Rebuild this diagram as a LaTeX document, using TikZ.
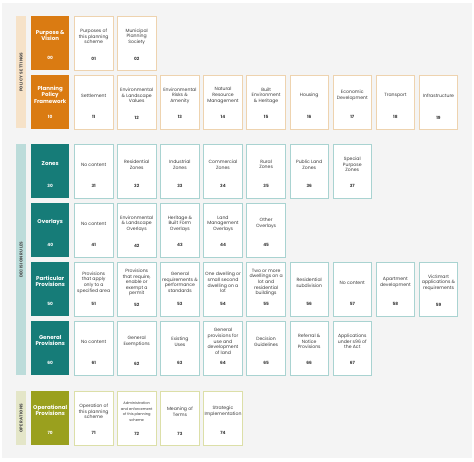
\documentclass[tikz,border=0pt]{standalone}
\usepackage{fontspec}
\setmainfont{Poppins}
\newfontfamily\barfont[LetterSpace=6]{Poppins}

\definecolor{bggrey}{HTML}{F4F4F4}
\definecolor{txtgrey}{HTML}{3A3A3A}
\definecolor{bargrey}{HTML}{4A4A4A}
\definecolor{phead}{HTML}{DA7B12}
\definecolor{pline}{HTML}{EED3AF}
\definecolor{pbar}{HTML}{F6E2C8}
\definecolor{dhead}{HTML}{167C78}
\definecolor{dline}{HTML}{A9D3D1}
\definecolor{dbar}{HTML}{BCDCDA}
\definecolor{ohead}{HTML}{9AA01E}
\definecolor{oline}{HTML}{DCDFA8}
\definecolor{obar}{HTML}{E4E6C8}

\begin{document}
\begin{tikzpicture}[x=1pt, y=-1pt]
	\tikzstyle{box} = [rectangle, fill=white, line width=0.9pt, minimum width=38.5pt, minimum height=53.5pt, anchor=north west, inner sep=0pt]
	\tikzstyle{pbox} = [box, draw=pline]
	\tikzstyle{dbox} = [box, draw=dline]
	\tikzstyle{obox} = [box, draw=oline]
	\tikzstyle{head} = [rectangle, minimum width=38pt, minimum height=53.5pt, anchor=north west, inner sep=0pt]
	\tikzstyle{txt} = [anchor=center, yshift=-20.5pt, align=center, inner sep=0pt, text=txtgrey, font=\fontsize{4.6}{5.6}\selectfont]
	\tikzstyle{num} = [anchor=center, yshift=12pt, inner sep=0pt, text=txtgrey, font=\fontsize{4.3}{5}\selectfont\bfseries]
	\tikzstyle{htxt} = [anchor=center, yshift=-19.5pt, align=center, inner sep=0pt, text=white, font=\fontsize{5.5}{6.4}\selectfont\bfseries]
	\tikzstyle{hnum} = [num, text=white]
	\tikzstyle{bar} = [rectangle, minimum width=10pt, anchor=north west, inner sep=0pt]
	\tikzstyle{bartxt} = [rotate=90, inner sep=0pt, text=bargrey, font=\barfont\fontsize{4.2}{5}\selectfont\bfseries]

	\useasboundingbox (0,0) rectangle (474,461);
	\fill[bggrey] (2,3) rectangle (472,458);

	% section bars
	\node[bar, fill=pbar, minimum height=112pt] (policy) at (16,16) {};
	\node[bar, fill=dbar, minimum height=231pt] (decision) at (16,144) {};
	\node[bar, fill=obar, minimum height=54pt] (operations) at (16,391) {};
	\node[bartxt] at (policy.center) {POLICY SETTINGS};
	\node[bartxt] at (decision.center) {DECISION RULES};
	\node[bartxt] at (operations.center) {OPERATIONS};

	% policy settings
	\node[head, fill=phead, label={[htxt]north:{Purpose \&\\Vision}}, label={[hnum]south:00}] (h00) at (31,16) {};
	\node[pbox, label={[txt]north:{Purposes of\\this planning\\scheme}}, label={[num]south:01}] (b01) at (74,16) {};
	\node[pbox, label={[txt]north:{Municipal\\Planning\\Society}}, label={[num]south:02}] (b02) at (117,16) {};

	\node[head, fill=phead, label={[htxt]north:{Planning\\Policy\\Framework}}, label={[hnum]south:10}] (h10) at (31,75) {};
	\node[pbox, label={[txt]north:{Settlement}}, label={[num]south:11}] (b11) at (74,75) {};
	\node[pbox, label={[txt]north:{Environmental\\\& Landscape\\Values}}, label={[num]south:12}] (b12) at (117,75) {};
	\node[pbox, label={[txt]north:{Environmental\\Risks \&\\Amenity}}, label={[num]south:13}] (b13) at (160.2,75) {};
	\node[pbox, label={[txt]north:{Natural\\Resource\\Management}}, label={[num]south:14}] (b14) at (203.3,75) {};
	\node[pbox, label={[txt]north:{Built\\Environment\\\& Heritage}}, label={[num]south:15}] (b15) at (246.4,75) {};
	\node[pbox, label={[txt]north:{Housing}}, label={[num]south:16}] (b16) at (289.5,75) {};
	\node[pbox, label={[txt]north:{Economic\\Development}}, label={[num]south:17}] (b17) at (332.6,75) {};
	\node[pbox, label={[txt]north:{Transport}}, label={[num]south:18}] (b18) at (375.7,75) {};
	\node[pbox, label={[txt]north:{Infrastructure}}, label={[num]south:19}] (b19) at (418.8,75) {};

	% decision rules
	\node[head, fill=dhead, label={[htxt]north:{Zones}}, label={[hnum]south:30}] (h30) at (31,144) {};
	\node[dbox, label={[txt]north:{No content}}, label={[num]south:31}] (b31) at (74,144) {};
	\node[dbox, label={[txt]north:{Residential\\Zones}}, label={[num]south:32}] (b32) at (117,144) {};
	\node[dbox, label={[txt]north:{Industrial\\Zones}}, label={[num]south:33}] (b33) at (160.2,144) {};
	\node[dbox, label={[txt]north:{Commercial\\Zones}}, label={[num]south:34}] (b34) at (203.3,144) {};
	\node[dbox, label={[txt]north:{Rural\\Zones}}, label={[num]south:35}] (b35) at (246.4,144) {};
	\node[dbox, label={[txt]north:{Public Land\\Zones}}, label={[num]south:36}] (b36) at (289.5,144) {};
	\node[dbox, label={[txt]north:{Special\\Purpose\\Zones}}, label={[num]south:37}] (b37) at (332.6,144) {};

	\node[head, fill=dhead, label={[htxt]north:{Overlays}}, label={[hnum]south:40}] (h40) at (31,203) {};
	\node[dbox, label={[txt]north:{No content}}, label={[num]south:41}] (b41) at (74,203) {};
	\node[dbox, label={[txt]north:{Environmental\\\& Landscape\\Overlays}}, label={[num]south:42}] (b42) at (117,203) {};
	\node[dbox, label={[txt]north:{Heritage \&\\Built Form\\Overlays}}, label={[num]south:43}] (b43) at (160.2,203) {};
	\node[dbox, label={[txt]north:{Land\\Management\\Overlays}}, label={[num]south:44}] (b44) at (203.3,203) {};
	\node[dbox, label={[txt]north:{Other\\Overlays}}, label={[num]south:45}] (b45) at (246.4,203) {};

	\node[head, fill=dhead, label={[htxt]north:{Particular\\Provisions}}, label={[hnum]south:50}] (h50) at (31,262) {};
	\node[dbox, label={[txt]north:{Provisions\\that apply\\only to a\\specified area}}, label={[num]south:51}] (b51) at (74,262) {};
	\node[dbox, label={[txt]north:{Provisions\\that require,\\enable or\\exempt a\\permit}}, label={[num]south:52}] (b52) at (117,262) {};
	\node[dbox, label={[txt]north:{General\\requirements \&\\performance\\standards}}, label={[num]south:53}] (b53) at (160.2,262) {};
	\node[dbox, label={[txt]north:{One dwelling or\\small second\\dwelling on a\\lot}}, label={[num]south:54}] (b54) at (203.3,262) {};
	\node[dbox, label={[txt]north:{Two or more\\dwellings on a\\lot and\\residential\\buildings}}, label={[num]south:55}] (b55) at (246.4,262) {};
	\node[dbox, label={[txt]north:{Residential\\subdivision}}, label={[num]south:56}] (b56) at (289.5,262) {};
	\node[dbox, label={[txt]north:{No content}}, label={[num]south:57}] (b57) at (332.6,262) {};
	\node[dbox, label={[txt]north:{Apartment\\development}}, label={[num]south:58}] (b58) at (375.7,262) {};
	\node[dbox, label={[txt]north:{VicSmart\\applications \&\\requirements}}, label={[num]south:59}] (b59) at (418.8,262) {};

	\node[head, fill=dhead, label={[htxt]north:{General\\Provisions}}, label={[hnum]south:60}] (h60) at (31,321) {};
	\node[dbox, label={[txt]north:{No content}}, label={[num]south:61}] (b61) at (74,321) {};
	\node[dbox, label={[txt]north:{General\\Exemptions}}, label={[num]south:62}] (b62) at (117,321) {};
	\node[dbox, label={[txt]north:{Existing\\Uses}}, label={[num]south:63}] (b63) at (160.2,321) {};
	\node[dbox, label={[txt]north:{General\\provisions for\\use and\\development\\of land}}, label={[num]south:64}] (b64) at (203.3,321) {};
	\node[dbox, label={[txt]north:{Decision\\Guidelines}}, label={[num]south:65}] (b65) at (246.4,321) {};
	\node[dbox, label={[txt]north:{Referral \&\\Notice\\Provisions}}, label={[num]south:66}] (b66) at (289.5,321) {};
	\node[dbox, label={[txt]north:{Applications\\under s96 of\\the Act}}, label={[num]south:67}] (b67) at (332.6,321) {};

	% operations
	\node[head, fill=ohead, label={[htxt]north:{Operational\\Provisions}}, label={[hnum]south:70}] (h70) at (31,391) {};
	\node[obox, label={[txt]north:{Operation of\\this planning\\scheme}}, label={[num]south:71}] (b71) at (74,391) {};
	\node[obox, label={[txt, font=\fontsize{3.6}{5.6}\selectfont]north:{Administration\\and enforcement\\of this planning\\scheme}}, label={[num]south:72}] (b72) at (117,391) {};
	\node[obox, label={[txt]north:{Meaning of\\Terms}}, label={[num]south:73}] (b73) at (160.2,391) {};
	\node[obox, label={[txt]north:{Strategic\\Implementation}}, label={[num]south:74}] (b74) at (203.3,391) {};
\end{tikzpicture}
\end{document}
